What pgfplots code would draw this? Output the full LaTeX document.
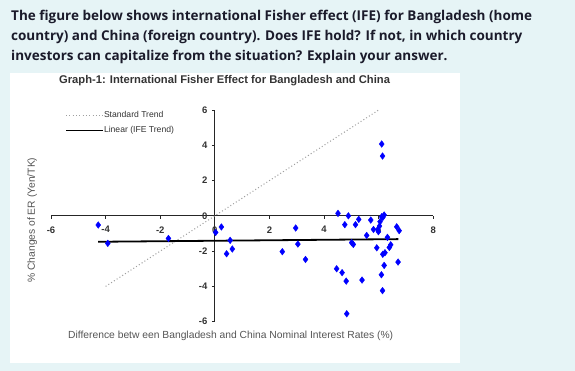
\documentclass[border=0pt]{standalone}
\usepackage{fontspec}
\setmainfont{Liberation Sans}
\newfontfamily\qfont{Open Sans}
\usepackage{pgfplots}
\usepackage{pgfplotstable}
\pgfplotsset{compat=1.18}
\definecolor{bgc}{HTML}{E6F4F6}
\definecolor{qtext}{HTML}{1B1B2B}
\definecolor{gtext}{HTML}{333333}
\definecolor{ltext}{HTML}{555555}

\pgfplotstableread{
x y
-4.27 -0.52
-3.92 -1.56
-1.70 -1.28
0.03 -0.94
0.24 -0.63
0.56 -1.39
0.43 -2.15
0.64 -1.88
2.47 -2.03
2.96 -0.69
3.04 -1.60
3.32 -2.47
4.51 0.14
4.89 0.00
4.76 -0.50
5.15 -0.50
5.27 -0.20
5.71 -0.24
5.56 -1.11
5.81 -0.77
5.99 -0.90
6.03 -0.58
6.05 -0.33
6.11 -0.05
6.20 0.05
6.15 -0.09
5.97 -0.77
6.66 -0.62
6.75 -0.84
6.32 -1.22
6.44 -1.64
6.39 -1.79
5.01 -1.52
5.07 -1.62
5.93 -1.81
6.23 -2.09
6.15 -2.18
6.20 -2.81
6.71 -2.62
4.46 -3.00
4.66 -3.22
4.81 -3.70
5.39 -3.64
6.10 -3.34
6.14 -4.24
4.83 -5.55
6.11 4.07
6.14 3.39
}\ferdata

\begin{document}
\begin{tikzpicture}[x=1pt,y=1pt]
\fill[bgc] (0,0) rectangle (575,371);
\useasboundingbox (0,0) rectangle (575,371);
\fill[white] (10,8.3) rectangle (460,298.3);
\begin{scope}[every node/.style={anchor=base west, inner sep=0pt, text=qtext, font=\qfont\bfseries\fontsize{13.5}{16}\selectfont}]
\node at (11,350.3) {The figure below shows international Fisher effect (IFE) for Bangladesh (home};
\node at (11,330.3) {country) and China (foreign country). Does IFE hold? If not, in which country};
\node at (11,310.3) {investors can capitalize from the situation? Explain your answer.};
\end{scope}
\begin{axis}[
  at={(51pt,49.3pt)}, anchor=south west,
  scale only axis, width=382.3pt, height=211.7pt,
  xmin=-6, xmax=8, ymin=-6, ymax=6,
  axis lines=middle,
  axis line style={-, line width=1pt, color=black!85},
  xtick={-6,-4,-2,0,2,4,6,8},
  xticklabels={-6,-4,-2,0,2,4,6,8},
  ytick={-6,-4,-2,0,2,4,6},
  yticklabels={-6,-4,-2,0,2,4,6},
  hide obscured x ticks=false, hide obscured y ticks=false,
  tick align=outside,
  major tick length=3pt,
  tick style={line width=0.8pt, color=black!85},
  ticklabel style={font=\bfseries\fontsize{9.5}{10}\selectfont, text=gtext},
  xticklabel style={anchor=north, yshift=-4pt},
  yticklabel style={anchor=east, xshift=-1pt},
  title={Graph-1: International Fisher Effect for Bangladesh and China},
  title style={at={(0.454,1.099)}, anchor=base, yshift=0pt, font=\bfseries\fontsize{11.2}{12}\selectfont, text=gtext},
  xlabel={Difference betw een Bangladesh and China Nominal Interest Rates (\%)},
  ylabel={\% Changes of ER (Yen/TK)},
  every axis x label/.style={at={(axis description cs:0.470,-0.078)}, anchor=base, font=\fontsize{10.3}{11}\selectfont, text=ltext},
  every axis y label/.style={at={(axis description cs:-0.049,0.480)}, rotate=90, anchor=center, font=\fontsize{10.3}{11}\selectfont, text=ltext},
  legend image code/.code={\draw[#1] (0pt,0pt) -- (37pt,0pt);},
  legend style={at={(axis cs:-5.487,5.96)}, anchor=north west, draw=none, fill=none, inner sep=0pt,
    font=\fontsize{8.6}{9}\selectfont, text=gtext, row sep=6.8pt, column sep=0pt,
    nodes={inner sep=0pt, outer sep=0pt, text height=6.2pt, text depth=2.3pt}},
  legend cell align=left,
  legend style={/tikz/every even column/.append style={column sep=3pt}},
  clip=false,
]
\addplot[gray!75, line width=1pt, dash pattern=on 1pt off 2.3pt] coordinates {(-4,-4) (6,6)};
\addlegendentry{Standard Trend}
\addplot[black, line width=1.8pt] coordinates {(-4.27,-1.47) (6.72,-1.32)};
\addlegendentry{Linear (IFE Trend)}
\addplot[only marks, mark=diamond*, mark size=3.3pt, color=blue, forget plot] table[x=x,y=y] {\ferdata};
\end{axis}
\end{tikzpicture}
\end{document}
